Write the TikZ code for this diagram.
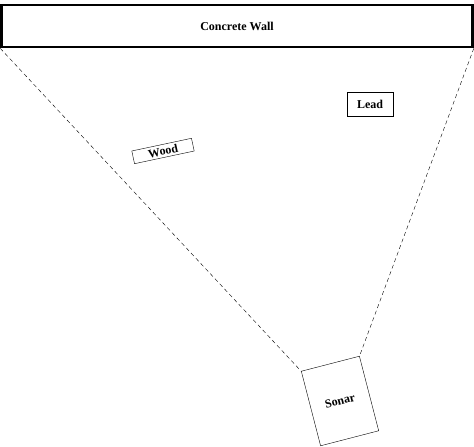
\documentclass[tikz,border=0pt]{standalone}
\usepackage{fontspec}
\setmainfont{Liberation Serif}
\tikzset{>=latex}
\tikzset{
    target/.style={draw, thin, inner sep=0pt, font=\fontsize{12}{14}\selectfont\bfseries},
    beam/.style={dashed, thin, dash pattern=on 4pt off 3pt}
}

\begin{document}
\begin{tikzpicture}[x=1pt, y=-1pt]
    \useasboundingbox (0,0) rectangle (474,447);

    % wall and the objects in front of it
    \node[target, line width=2.6pt, minimum width=471pt, minimum height=42pt] (wall) at (237,26) {Concrete Wall};
    \node[target, minimum width=46pt, minimum height=24pt] (lead) at (370,104) {Lead};
    \node[target, rotate=12, minimum width=61pt, minimum height=13pt] (wood) at (163,151) {Wood};
    \node[target, rotate=14.5, minimum width=60pt, minimum height=77pt] (sonar) at (340,401) {Sonar};

    % field of view
    \draw[beam] (wall.south west) -- (sonar.north west);
    \draw[beam] (wall.south east) -- (sonar.north east);

\end{tikzpicture}
\end{document}
